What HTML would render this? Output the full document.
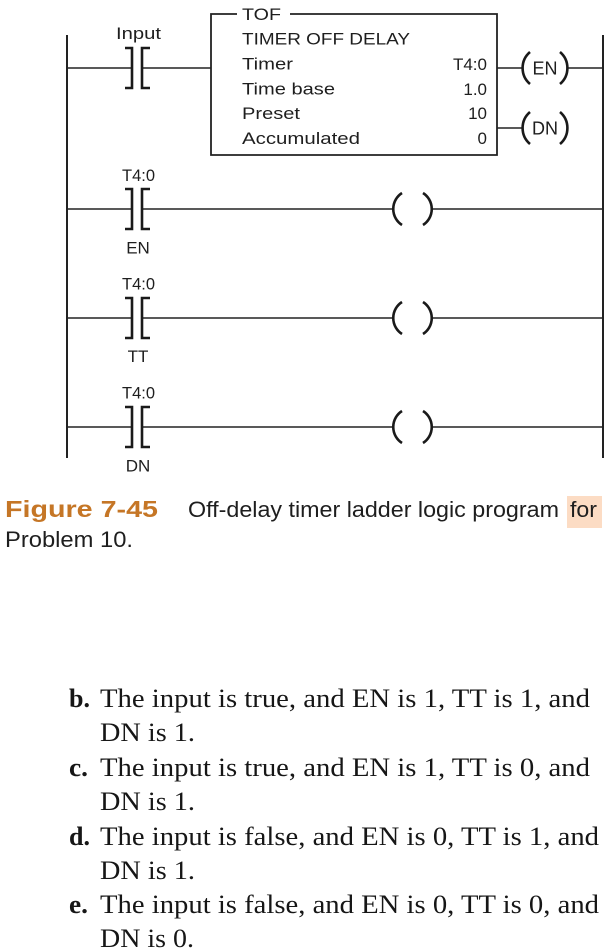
<!DOCTYPE html>
<html>
<head>
<meta charset="utf-8">
<style>
  html, body { margin: 0; padding: 0; background: #ffffff; }
  body { width: 609px; height: 952px; overflow: hidden; }
  svg { display: block; }
  .d { font-family: "Liberation Sans", "DejaVu Sans", sans-serif; fill: #1e1e1e; }
  .cap { font-family: "Liberation Sans Narrow", "Liberation Sans", sans-serif; fill: #1e1e1e; }
  .q { font-family: "Liberation Serif", "DejaVu Serif", serif; fill: #161616; }
</style>
</head>
<body>
<svg width="609" height="952" viewBox="0 0 609 952" xmlns="http://www.w3.org/2000/svg">
  <rect x="0" y="0" width="609" height="952" fill="#ffffff"/>

  <!-- Rails -->
  <g stroke="#222" stroke-width="2" fill="none">
    <line x1="67" y1="35" x2="67" y2="458"/>
    <line x1="603" y1="35" x2="603" y2="458"/>
  </g>

  <!-- Rung 1 -->
  <g stroke="#222" stroke-width="1.6" fill="none">
    <line x1="67" y1="68" x2="132" y2="68"/>
    <line x1="142" y1="68" x2="211" y2="68"/>
  </g>
  <g stroke="#1a1a1a" stroke-width="2.6" fill="none">
    <path d="M125,48 H132 V88 H125"/>
    <path d="M150,48 H142 V88 H150"/>
  </g>
  <text class="d" x="116" y="39" font-size="17" textLength="45" lengthAdjust="spacingAndGlyphs">Input</text>

  <!-- TOF box -->
  <g stroke="#222" stroke-width="1.8" fill="none">
    <path d="M237,14 H211 V155 H497 V14 H290"/>
  </g>
  <text class="d" x="242" y="20" font-size="17" textLength="39" lengthAdjust="spacingAndGlyphs">TOF</text>
  <text class="d" x="242" y="44.5" font-size="17" textLength="168" lengthAdjust="spacingAndGlyphs">TIMER OFF DELAY</text>
  <text class="d" x="242" y="69.5" font-size="17" textLength="51" lengthAdjust="spacingAndGlyphs">Timer</text>
  <text class="d" x="242" y="94.5" font-size="17" textLength="93" lengthAdjust="spacingAndGlyphs">Time base</text>
  <text class="d" x="242" y="119" font-size="17" textLength="58" lengthAdjust="spacingAndGlyphs">Preset</text>
  <text class="d" x="242" y="144" font-size="17" textLength="118" lengthAdjust="spacingAndGlyphs">Accumulated</text>
  <text class="d" x="487" y="70" font-size="17" text-anchor="end">T4:0</text>
  <text class="d" x="487" y="95" font-size="17" text-anchor="end">1.0</text>
  <text class="d" x="487" y="119" font-size="17" text-anchor="end">10</text>
  <text class="d" x="487" y="144" font-size="17" text-anchor="end">0</text>

  <!-- EN / DN coils -->
  <g stroke="#222" stroke-width="1.6" fill="none">
    <line x1="497" y1="68" x2="523" y2="68"/>
    <line x1="567" y1="68" x2="603" y2="68"/>
    <line x1="497" y1="128" x2="523" y2="128"/>
  </g>
  <g stroke="#1a1a1a" stroke-width="2.6" fill="none">
    <path d="M530,52 A21,21 0 0 0 530,84"/>
    <path d="M560,52 A21,21 0 0 1 560,84"/>
    <path d="M530,112 A21,21 0 0 0 530,144"/>
    <path d="M560,112 A21,21 0 0 1 560,144"/>
  </g>
  <text class="d" x="545" y="74.5" font-size="18" text-anchor="middle">EN</text>
  <text class="d" x="545" y="134.5" font-size="18" text-anchor="middle">DN</text>

  <!-- Rung 2 -->
  <g stroke="#222" stroke-width="1.6" fill="none">
    <line x1="67" y1="209" x2="132" y2="209"/>
    <line x1="142" y1="209" x2="394" y2="209"/>
    <line x1="431" y1="209" x2="603" y2="209"/>
  </g>
  <g stroke="#1a1a1a" stroke-width="2.6" fill="none">
    <path d="M125,189 H132 V229 H125"/>
    <path d="M150,189 H142 V229 H150"/>
    <path d="M402,193 A19,19 0 0 0 402,225"/>
    <path d="M423,193 A19,19 0 0 1 423,225"/>
  </g>
  <text class="d" x="138.5" y="181" font-size="16.5" text-anchor="middle">T4:0</text>
  <text class="d" x="138" y="253.5" font-size="17" text-anchor="middle">EN</text>

  <!-- Rung 3 -->
  <g stroke="#222" stroke-width="1.6" fill="none">
    <line x1="67" y1="318" x2="132" y2="318"/>
    <line x1="142" y1="318" x2="394" y2="318"/>
    <line x1="431" y1="318" x2="603" y2="318"/>
  </g>
  <g stroke="#1a1a1a" stroke-width="2.6" fill="none">
    <path d="M125,298 H132 V338 H125"/>
    <path d="M150,298 H142 V338 H150"/>
    <path d="M402,302 A19,19 0 0 0 402,334"/>
    <path d="M423,302 A19,19 0 0 1 423,334"/>
  </g>
  <text class="d" x="138.5" y="289.5" font-size="16.5" text-anchor="middle">T4:0</text>
  <text class="d" x="138" y="362" font-size="17" text-anchor="middle">TT</text>

  <!-- Rung 4 -->
  <g stroke="#222" stroke-width="1.6" fill="none">
    <line x1="67" y1="427" x2="132" y2="427"/>
    <line x1="142" y1="427" x2="394" y2="427"/>
    <line x1="431" y1="427" x2="603" y2="427"/>
  </g>
  <g stroke="#1a1a1a" stroke-width="2.6" fill="none">
    <path d="M125,407 H132 V447 H125"/>
    <path d="M150,407 H142 V447 H150"/>
    <path d="M402,411 A19,19 0 0 0 402,443"/>
    <path d="M423,411 A19,19 0 0 1 423,443"/>
  </g>
  <text class="d" x="138.5" y="398.5" font-size="16.5" text-anchor="middle">T4:0</text>
  <text class="d" x="138" y="471.5" font-size="17" text-anchor="middle">DN</text>

  <!-- Caption -->
  <rect x="567" y="496" width="35" height="32" fill="#fcdcc4"/>
  <text x="5" y="517" font-family="'Liberation Sans', sans-serif" font-weight="bold" font-size="23" fill="#c57626" textLength="153" lengthAdjust="spacingAndGlyphs">Figure 7-45</text>
  <text class="cap" x="188" y="517" font-size="22" textLength="371" lengthAdjust="spacingAndGlyphs">Off-delay timer ladder logic program</text>
  <text class="cap" x="570" y="517" font-size="22" textLength="27" lengthAdjust="spacingAndGlyphs">for</text>
  <text class="cap" x="5" y="547" font-size="22" textLength="128" lengthAdjust="spacingAndGlyphs">Problem 10.</text>

  <!-- Questions -->
  <text class="q" x="69" y="707" font-size="26" font-weight="bold" textLength="21" lengthAdjust="spacingAndGlyphs">b.</text>
  <text class="q" x="100" y="707" font-size="26" textLength="490" lengthAdjust="spacingAndGlyphs">The input is true, and EN is 1, TT is 1, and</text>
  <text class="q" x="100" y="741" font-size="26" textLength="95" lengthAdjust="spacingAndGlyphs">DN is 1.</text>

  <text class="q" x="69" y="776" font-size="26" font-weight="bold" textLength="19" lengthAdjust="spacingAndGlyphs">c.</text>
  <text class="q" x="100" y="776" font-size="26" textLength="490" lengthAdjust="spacingAndGlyphs">The input is true, and EN is 1, TT is 0, and</text>
  <text class="q" x="100" y="810" font-size="26" textLength="95" lengthAdjust="spacingAndGlyphs">DN is 1.</text>

  <text class="q" x="69" y="845" font-size="26" font-weight="bold" textLength="21" lengthAdjust="spacingAndGlyphs">d.</text>
  <text class="q" x="100" y="845" font-size="26" textLength="499" lengthAdjust="spacingAndGlyphs">The input is false, and EN is 0, TT is 1, and</text>
  <text class="q" x="100" y="879" font-size="26" textLength="95" lengthAdjust="spacingAndGlyphs">DN is 1.</text>

  <text class="q" x="69" y="913" font-size="26" font-weight="bold" textLength="19" lengthAdjust="spacingAndGlyphs">e.</text>
  <text class="q" x="100" y="913" font-size="26" textLength="499" lengthAdjust="spacingAndGlyphs">The input is false, and EN is 0, TT is 0, and</text>
  <text class="q" x="100" y="947" font-size="26" textLength="94" lengthAdjust="spacingAndGlyphs">DN is 0.</text>
</svg>
</body>
</html>
